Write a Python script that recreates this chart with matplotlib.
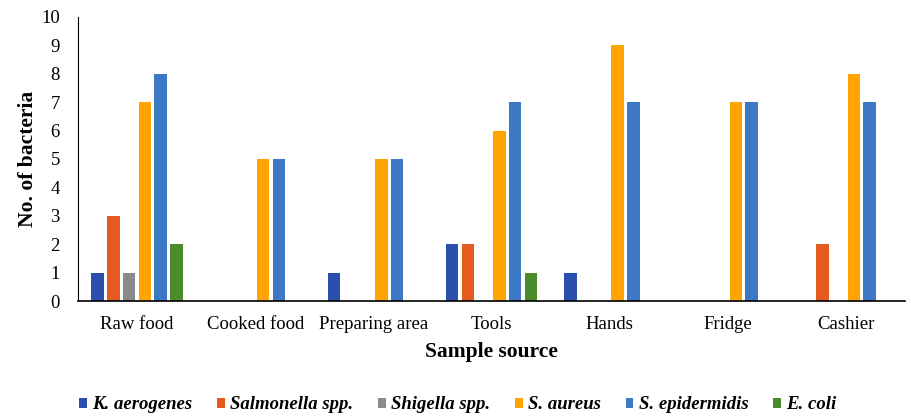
#!/usr/bin/env python3
import numpy as np
import matplotlib.pyplot as plt

plt.rcParams.update({
    "font.family": ["Liberation Serif", "DejaVu Serif"],
    "font.size": 13,
})

CATEGORIES = ["Raw food", "Cooked food", "Preparing area", "Tools", "Hands", "Fridge", "Cashier"]
SERIES = ["K. aerogenes", "Salmonella spp.", "Shigella spp.", "S. aureus", "S. epidermidis", "E. coli"]
K_AEROGENES = [1, 0, 1, 2, 1, 0, 0]
SALMONELLA = [3, 0, 0, 2, 0, 0, 2]
SHIGELLA = [1, 0, 0, 0, 0, 0, 0]
S_AUREUS = [7, 5, 5, 6, 9, 7, 8]
S_EPIDERMIDIS = [8, 5, 5, 7, 7, 7, 7]
E_COLI = [2, 0, 0, 1, 0, 0, 0]
COLORS = ["#2A4FAE", "#E55B1F", "#8A8A8A", "#FFA400", "#3D78C4", "#4A8B2C"]

values = [K_AEROGENES, SALMONELLA, SHIGELLA, S_AUREUS, S_EPIDERMIDIS, E_COLI]

fig = plt.figure(figsize=(9.12, 4.2), dpi=100)
ax = fig.add_axes([0.0855, 0.283, 0.907, 0.677])

x = np.arange(len(CATEGORIES))
slot = 0.8 / len(SERIES)
for i, (name, vals, color) in enumerate(zip(SERIES, values, COLORS)):
    offs = (i - (len(SERIES) - 1) / 2) * slot
    ax.bar(x + offs, vals, width=slot * 0.79, color=color, label=name)

ax.set_xlim(-0.5, len(CATEGORIES) - 0.5)
ax.set_ylim(0, 10)
ax.set_yticks(range(0, 11))
ax.set_xticks(x)
ax.set_xticklabels(CATEGORIES)
ax.tick_params(axis="both", length=0, labelsize=13.5)
ax.tick_params(axis="x", pad=11)
ax.tick_params(axis="y", pad=13)
for side in ("top", "right"):
    ax.spines[side].set_visible(False)
ax.spines["left"].set_color("#000000")
ax.spines["left"].set_linewidth(0.8)
ax.spines["bottom"].set_linewidth(1.2)

ax.set_ylabel("No. of bacteria", fontsize=15.5, fontweight="bold", labelpad=2)
ax.set_xlabel("Sample source", fontsize=15.5, fontweight="bold", labelpad=6)

leg = fig.legend(
    loc="center",
    bbox_to_anchor=(0.502, 0.036),
    ncol=len(SERIES),
    frameon=False,
    handlelength=0.42,
    handleheight=0.45,
    handletextpad=0.3,
    columnspacing=1.3,
    prop={"weight": "bold", "style": "italic", "size": 13.5},
)

fig.savefig("out.png", dpi=100)
